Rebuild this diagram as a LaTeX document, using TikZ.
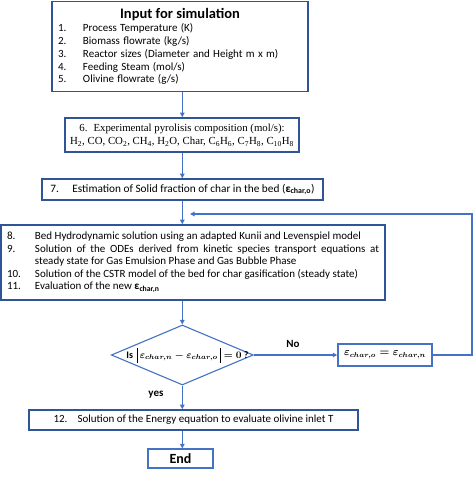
\documentclass[tikz,border=0pt]{standalone}
\usepackage{fontspec}
\usepackage{amsmath}
\setmainfont{Carlito}
\newfontfamily\tnr{Liberation Serif}
\usetikzlibrary{shapes.geometric,arrows.meta,calc}
\definecolor{boxc}{HTML}{2F5597}
\definecolor{arrc}{HTML}{4472C4}
\newcommand\hitem[1]{\par\hangindent=28pt\hangafter=1\noindent\makebox[28pt][l]{#1}}
\newcommand\absbar{\rule[-4.5pt]{0.8pt}{15pt}}
\newcommand\eqtext{$\varepsilon_{char,o}=\varepsilon_{char,n}$}
\newcommand\dectext{Is\, \absbar$\,\varepsilon_{char,n}-\varepsilon_{char,o}\,$\absbar$\;= 0$ ?}
\begin{document}
\begin{tikzpicture}[x=1pt,y=-1pt,
  box/.style={draw=boxc, line width=1.6pt, inner sep=0pt, fill=white},
  arr/.style={draw=arrc, line width=1.2pt, -{Triangle[length=4.5pt,width=4.5pt]}},
  lbl/.style={font=\bfseries\fontsize{11}{13}\selectfont}]
\useasboundingbox (0,0) rectangle (474,477);
\coordinate (ax) at (182.3,0);

\node[box, minimum width=256pt, minimum height=90pt, text width=244pt, align=center] (inp) at (180,46.5)
 {{\fontsize{14.5}{17}\selectfont\bfseries Input for simulation}\\
  \fontsize{11}{13}\selectfont
  \makebox[244pt][l]{\makebox[25pt][l]{1.}Process Temperature (K)}\\
  \makebox[244pt][l]{\makebox[25pt][l]{2.}Biomass flowrate (kg/s)}\\
  \makebox[244pt][l]{\makebox[25pt][l]{3.}Reactor sizes (Diameter and Height m x m)}\\
  \makebox[244pt][l]{\makebox[25pt][l]{4.}Feeding Steam (mol/s)}\\
  \makebox[244pt][l]{\makebox[25pt][l]{5.}Olivine flowrate (g/s)}};

\node[box, minimum width=234pt, minimum height=34pt, align=center, font=\tnr\fontsize{10.8}{13}\selectfont] (b6) at (182,135)
 {6.\hspace{6pt}Experimental pyrolisis composition (mol/s):\\
  H\textsubscript{2}, CO, CO\textsubscript{2}, CH\textsubscript{4}, H\textsubscript{2}O, Char, C\textsubscript{6}H\textsubscript{6}, C\textsubscript{7}H\textsubscript{8}, C\textsubscript{10}H\textsubscript{8}};

\node[box, minimum width=281pt, minimum height=21pt, font=\fontsize{11.3}{13}\selectfont] (b7) at (182.5,189.5)
 {\makebox[22pt][l]{7.}Estimation of Solid fraction of char in the bed (\textbf{ε\textsubscript{char,o}})};

\node[box, minimum width=384pt, minimum height=75pt] (b8) at (193,262.5)
 {\parbox{372pt}{\fontsize{11}{12.5}\selectfont
  \hitem{8.}Bed Hydrodynamic solution using an adapted Kunii and Levenspiel model
  \hitem{9.}Solution of the ODEs derived from kinetic species transport equations at\linebreak steady state for Gas Emulsion Phase and Gas Bubble Phase
  \hitem{10.}Solution of the CSTR model of the bed for char gasification (steady state)
  \hitem{11.}Evaluation of the new \textbf{ε\textsubscript{char,n}}\par}};

\node[diamond, draw=arrc, line width=1.1pt, minimum width=142pt, minimum height=60pt, inner sep=0pt, fill=white] (dec) at (182.3,355) {};
\node[font=\bfseries\boldmath\fontsize{10}{12}\selectfont, inner sep=0pt] (dect) at (187.5,355) {\dectext};

\node[box, draw=arrc, line width=1.5pt, minimum width=94pt, minimum height=22pt, font=\boldmath\fontsize{10.5}{12}\selectfont] (epsbox) at (385,355) {\eqtext};

\node[box, minimum width=329pt, minimum height=20pt, font=\fontsize{11}{13}\selectfont] (b12) at (193.5,420)
 {\makebox[24pt][l]{12.}Solution of the Energy equation to evaluate olivine inlet T};

\node[box, draw=arrc, line width=1.2pt, minimum width=65pt, minimum height=19pt, font=\bfseries\fontsize{14}{16}\selectfont] (endbox) at (180.5,458.5) {End};

\node[lbl] (no) at (293,344) {No};
\node[lbl] (yes) at (156,395) {yes};

\draw[arr] (inp.south -| ax) -- (b6.north -| ax);
\draw[arr] (b6.south -| ax) -- (b7.north -| ax);
\draw[arr] (b7.south -| ax) -- (b8.north -| ax);
\draw[arr] (b8.south -| ax) -- (dec.north);
\draw[arr] (dec.south) -- (b12.north -| ax);
\draw[arr] (b12.south -| ax) -- (endbox.north -| ax);
\draw[arr] (dec.east) -- (epsbox.west);
\coordinate (fb) at (472,214);
\coordinate (fbend) at (190,214);
\draw[arr] (epsbox.east) -- (epsbox.east -| fb) -- (fb) -- (fbend);
\end{tikzpicture}
\end{document}
